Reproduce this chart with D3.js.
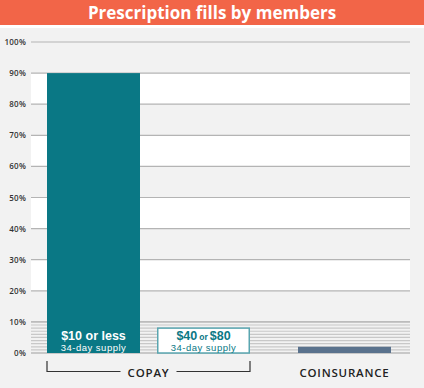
<!DOCTYPE html>
<html>
<head>
<meta charset="utf-8">
<script src="https://cdn.jsdelivr.net/npm/d3@7"></script>
<style>
  html, body { margin: 0; padding: 0; background: #fff; }
  svg { display: block; }
</style>
</head>
<body>
<div id="chart"></div>
<script>
const title = 'Prescription fills by members';
const categories = ['$10 or less', '$40 or $80', 'Coinsurance'];
const values = [90, 8, 2];
const subLabel = '34-day supply';
const groups = ['COPAY', 'COINSURANCE'];
const yTicks = [0, 10, 20, 30, 40, 50, 60, 70, 80, 90, 100];
const hatchTicks = d3.range(0, 11, 1);

const width = 424;
const height = 388;
const font = "'Open Sans', sans-serif";
const labelFont = "'Liberation Sans', Arial, sans-serif";

const svg = d3.select('#chart').append('svg')
  .attr('width', width)
  .attr('height', height);

// fondo
svg.append('rect').attr('x', 0).attr('y', 28).attr('width', width).attr('height', height - 28).attr('fill', '#f2f2f2');
svg.append('rect').attr('x', 0).attr('y', 0).attr('width', width).attr('height', 25).attr('fill', '#f26548');
svg.append('text')
  .attr('x', width / 2).attr('y', 18.5)
  .attr('text-anchor', 'middle')
  .attr('font-family', font).attr('font-weight', 700).attr('font-size', 17)
  .attr('fill', '#fff')
  .text(title);

const left = 31, right = 410;
const y = d3.scaleLinear().domain([0, 100]).range([353, 42]);
const x = d3.scaleOrdinal().domain(categories).range([47, 157, 298]);
const barW = 93;

// bandas blancas
svg.append('g').selectAll('rect')
  .data([90, 70, 50, 30])
  .enter().append('rect')
  .attr('x', left).attr('width', right - left)
  .attr('y', d => y(d)).attr('height', d => y(d - 10) - y(d))
  .attr('fill', '#fff');

// rayado 0-10%
svg.append('g').selectAll('line')
  .data(hatchTicks)
  .enter().append('line')
  .attr('x1', left).attr('x2', right)
  .attr('y1', d => y(d)).attr('y2', d => y(d))
  .attr('stroke', '#c8c8c8').attr('stroke-width', 1.2);

// grid
svg.append('g').selectAll('line')
  .data(yTicks)
  .enter().append('line')
  .attr('x1', left).attr('x2', right)
  .attr('y1', d => y(d)).attr('y2', d => y(d))
  .attr('stroke', '#b4b4b4').attr('stroke-width', 1.2);

svg.append('g').selectAll('text')
  .data(yTicks)
  .enter().append('text')
  .attr('x', 26).attr('y', d => y(d) + 3)
  .attr('text-anchor', 'end')
  .attr('font-family', font).attr('font-weight', 600).attr('font-size', 8)
  .attr('letter-spacing', 0.2)
  .attr('fill', '#333')
  .text(d => d + '%');

// barras
const fills = ['#0a7885', '#ffffff', '#5a728d'];
const strokes = ['none', '#5aa6b0', 'none'];
svg.append('g').selectAll('rect')
  .data(values)
  .enter().append('rect')
  .attr('x', (d, i) => x(categories[i]) + (i === 1 ? 0.75 : 0))
  .attr('width', (d, i) => barW - (i === 1 ? 1.5 : 0))
  .attr('y', d => y(d))
  .attr('height', d => y(0) - y(d))
  .attr('fill', (d, i) => fills[i])
  .attr('stroke', (d, i) => strokes[i])
  .attr('stroke-width', 1.5);

// etiquetas de barras
const cx = i => x(categories[i]) + barW / 2;
const labelColors = ['#fff', '#0a7885'];
[0, 1].forEach(i => {
  const t = svg.append('text')
    .attr('x', cx(i)).attr('y', 339.5)
    .attr('text-anchor', 'middle')
    .attr('font-family', labelFont).attr('font-weight', 700).attr('font-size', 12.5)
    .attr('fill', labelColors[i]);
  if (i === 0) {
    t.text(categories[0]);
  } else {
    const parts = categories[1].split(' ');
    t.append('tspan').text(parts[0]);
    t.append('tspan').attr('font-size', 8.5).attr('dx', 2).text(parts[1]);
    t.append('tspan').attr('dx', 2).text(parts[2]);
  }
  svg.append('text')
    .attr('x', cx(i)).attr('y', 350.8)
    .attr('text-anchor', 'middle')
    .attr('font-family', labelFont).attr('font-size', 9.5)
    .attr('letter-spacing', 0.5)
    .attr('fill', labelColors[i])
    .text(subLabel);
});

// corchete COPAY
const bx0 = x(categories[0]), bx1 = x(categories[1]) + barW;
const bmid = (bx0 + bx1) / 2;
svg.append('path')
  .attr('d', `M${bx0},361V371.5H${bmid - 28}M${bmid + 28},371.5H${bx1}V361`)
  .attr('fill', 'none').attr('stroke', '#333').attr('stroke-width', 1.2);

svg.append('g').selectAll('text')
  .data(groups)
  .enter().append('text')
  .attr('x', (d, i) => i === 0 ? bmid : cx(2))
  .attr('y', 376.5)
  .attr('text-anchor', 'middle')
  .attr('font-family', font).attr('font-weight', 600).attr('font-size', 11.5)
  .attr('letter-spacing', 0.8)
  .attr('fill', '#222')
  .text(d => d);
</script>
</body>
</html>
